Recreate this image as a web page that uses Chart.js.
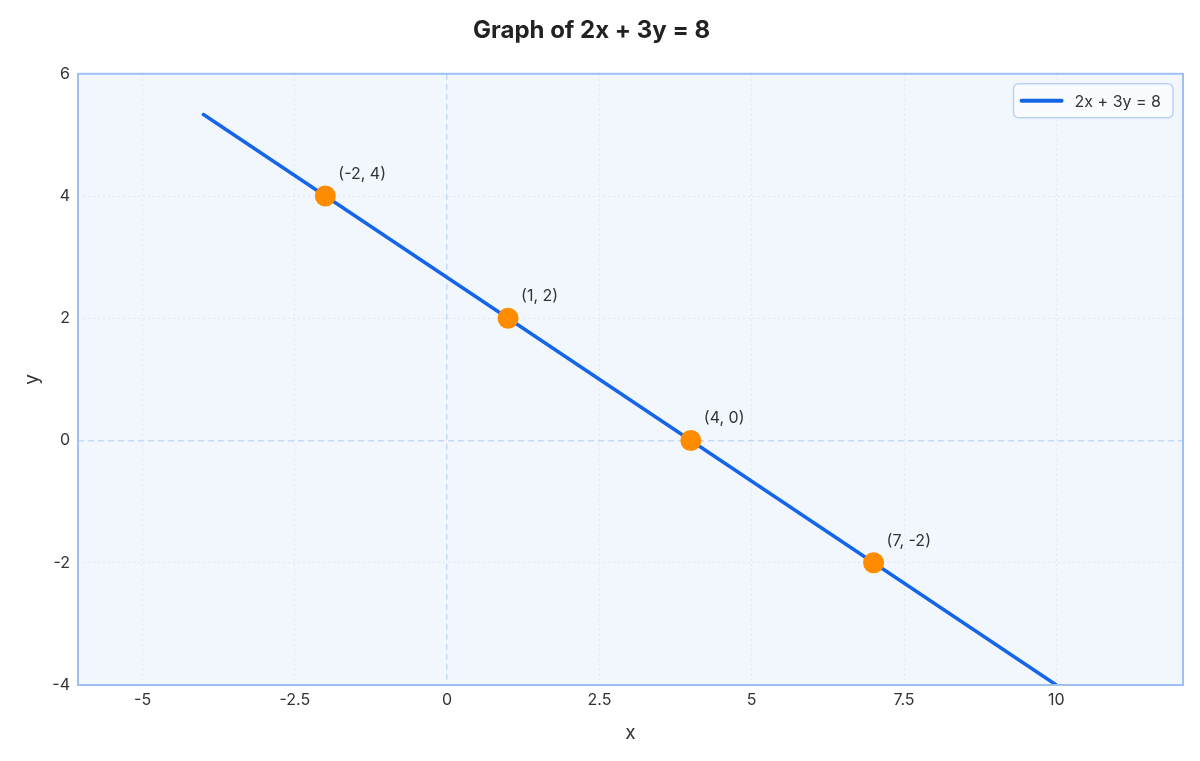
<!DOCTYPE html>
<html>
<head>
<meta charset="utf-8">
<script src="https://cdn.jsdelivr.net/npm/chart.js@4.4.1/dist/chart.umd.min.js"></script>
<style>
  html, body { margin: 0; padding: 0; background: #ffffff; }
  #wrap { width: 1200px; height: 761px; }
</style>
</head>
<body>
<div id="wrap"><canvas id="lineChart"></canvas></div>
<script>
// line 2x + 3y = 8, drawn from x = -4 to x = 10
const lineX = [-4, 10];
const lineY = [16 / 3, -4];

// marked solutions
const pointX = [-2, 1, 4, 7];
const pointY = [4, 2, 0, -2];
const pointLabels = ['(-2, 4)', '(1, 2)', '(4, 0)', '(7, -2)'];

const xTicks = [-5, -2.5, 0, 2.5, 5, 7.5, 10];
const yTicks = [-4, -2, 0, 2, 4, 6];

const FONT = 'Inter, "Noto Sans", sans-serif';
const BLUE = '#1565E8';
const ORANGE = '#FF8C00';

const lineData = lineX.map((x, i) => ({ x: x, y: lineY[i] }));
const pointData = pointX.map((x, i) => ({ x: x, y: pointY[i] }));

// background of the plot area and its frame
const plotArea = {
    id: 'plotArea',
    beforeDraw(chart) {
        const { ctx, chartArea: a } = chart;
        ctx.save();
        ctx.fillStyle = '#F2F7FE';
        ctx.fillRect(a.left, a.top, a.right - a.left, a.bottom - a.top);
        ctx.restore();
    },
    afterDraw(chart) {
        const { ctx, chartArea: a } = chart;
        ctx.save();
        ctx.strokeStyle = '#9FC0F4';
        ctx.lineWidth = 2;
        ctx.strokeRect(a.left, a.top, a.right - a.left, a.bottom - a.top);
        ctx.restore();
    }
};

// "(x, y)" notes next to each point
const pointNotes = {
    id: 'pointNotes',
    afterDatasetsDraw(chart) {
        const { ctx, scales } = chart;
        ctx.save();
        ctx.font = '16px ' + FONT;
        ctx.fillStyle = '#333333';
        ctx.textAlign = 'left';
        ctx.textBaseline = 'middle';
        pointX.forEach((x, i) => {
            const px = scales.x.getPixelForValue(x);
            const py = scales.y.getPixelForValue(pointY[i]);
            ctx.fillText(pointLabels[i], px + 13, py - 22);
        });
        ctx.restore();
    }
};

// legend box in the upper right of the plot
const legendBox = {
    id: 'legendBox',
    afterDraw(chart) {
        const { ctx, chartArea: a } = chart;
        const text = chart.data.datasets[1].label;
        ctx.save();
        ctx.font = '16px ' + FONT;
        const tw = ctx.measureText(text).width;
        const w = 61 + tw + 12;
        const h = 34;
        const x = a.right - 10 - w;
        const y = a.top + 10;
        ctx.beginPath();
        ctx.roundRect(x, y, w, h, 5);
        ctx.fillStyle = 'rgba(250, 252, 255, 0.9)';
        ctx.fill();
        ctx.strokeStyle = '#BBD2F6';
        ctx.lineWidth = 1.5;
        ctx.stroke();
        ctx.beginPath();
        ctx.moveTo(x + 8, y + h / 2);
        ctx.lineTo(x + 48, y + h / 2);
        ctx.strokeStyle = BLUE;
        ctx.lineWidth = 4;
        ctx.lineCap = 'round';
        ctx.stroke();
        ctx.fillStyle = '#333333';
        ctx.textBaseline = 'middle';
        ctx.fillText(text, x + 61, y + h / 2 + 1);
        ctx.restore();
    }
};

const gridColor = (ctx) => ctx.tick && ctx.tick.value === 0 ? '#C6DAF7' : '#DFE8F6';
const gridWidth = (ctx) => ctx.tick && ctx.tick.value === 0 ? 1.5 : 1;
const gridDash = (ctx) => ctx.tick && ctx.tick.value === 0 ? [6, 4] : [2, 3];

new Chart(document.getElementById('lineChart'), {
    type: 'scatter',
    data: {
        datasets: [
            {
                label: 'points',
                data: pointData,
                backgroundColor: ORANGE,
                borderColor: ORANGE,
                pointRadius: 10.5,
                pointHoverRadius: 10.5,
                borderWidth: 0,
                showLine: false,
                order: 1
            },
            {
                label: '2x + 3y = 8',
                data: lineData,
                borderColor: BLUE,
                backgroundColor: BLUE,
                borderWidth: 3.5,
                showLine: true,
                pointRadius: 0,
                borderCapStyle: 'round',
                order: 2
            }
        ]
    },
    options: {
        responsive: true,
        maintainAspectRatio: false,
        animation: false,
        layout: { padding: { left: 0, right: 17, top: 0, bottom: 0 } },
        plugins: {
            legend: { display: false },
            tooltip: { enabled: false },
            title: {
                display: true,
                text: 'Graph of 2x + 3y = 8',
                color: '#222222',
                font: { family: FONT, size: 24, weight: 'bold' },
                padding: { top: 16, bottom: 29 }
            }
        },
        scales: {
            x: {
                type: 'linear',
                min: -6.06,
                max: 12.08,
                afterBuildTicks: (scale) => { scale.ticks = xTicks.map(v => ({ value: v })); },
                afterFit: (scale) => { scale.height = 76; },
                ticks: {
                    color: '#333333',
                    font: { family: FONT, size: 16 },
                    padding: 6,
                    maxRotation: 0
                },
                grid: { color: gridColor, lineWidth: gridWidth, drawTicks: false },
                border: { display: false, dash: gridDash },
                title: {
                    display: true,
                    text: 'x',
                    color: '#333333',
                    font: { family: FONT, size: 19 },
                    padding: { top: 0, bottom: 16 }
                }
            },
            y: {
                type: 'linear',
                min: -4,
                max: 6,
                afterBuildTicks: (scale) => { scale.ticks = yTicks.map(v => ({ value: v })); },
                afterFit: (scale) => { scale.width = 78; },
                ticks: {
                    color: '#333333',
                    font: { family: FONT, size: 16 },
                    padding: 8
                },
                grid: { color: gridColor, lineWidth: gridWidth, drawTicks: false },
                border: { display: false, dash: gridDash },
                title: {
                    display: true,
                    text: 'y',
                    color: '#333333',
                    font: { family: FONT, size: 19 },
                    padding: { top: 21, bottom: 0 }
                }
            }
        }
    },
    plugins: [plotArea, pointNotes, legendBox]
});
</script>
</body>
</html>
